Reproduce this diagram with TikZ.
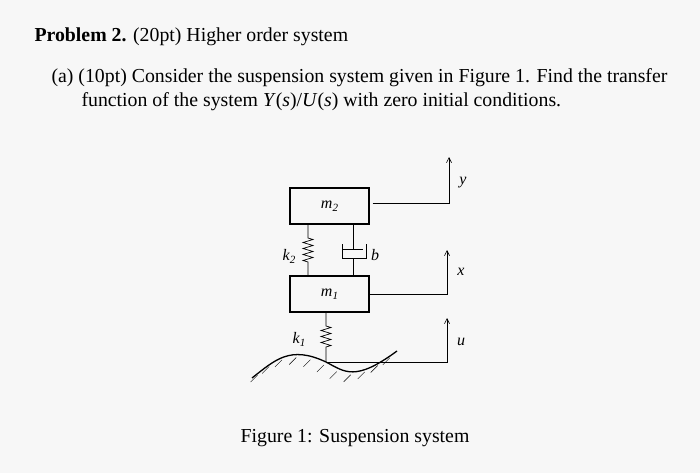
\documentclass[tikz,border=0pt]{standalone}
\usepackage{fontspec}
\setmainfont{Liberation Serif}
\usetikzlibrary{decorations.pathmorphing,decorations.markings,arrows.meta}
\newcommand{\lsub}[2]{\textit{#1}\raisebox{-3pt}{\fontsize{11}{11}\selectfont #2}}
\begin{document}
\begin{tikzpicture}[x=1pt,y=-1pt,
  mass/.style={draw,line width=1.4pt,minimum width=79pt,minimum height=36pt,inner sep=0pt},
  wire/.style={line width=0.6pt},
  sig/.style={line width=0.6pt,-{Straight Barb[length=5pt,width=5pt]}},
  spr/.style={line width=0.7pt,decorate,decoration={zigzag,segment length=6pt,amplitude=5pt,pre length=14pt,post length=14pt}},
  lbl/.style={font=\fontsize{16}{18}\selectfont\itshape}]
\fill[white!94!gray] (0,0) rectangle (700,473);
\useasboundingbox (0,0) rectangle (700,473);
\node[anchor=base west,font=\fontsize{19.8}{24}\selectfont] (t) at (31,42) {\textbf{Problem 2.} (20pt) Higher order system};
\node[anchor=base west,font=\fontsize{19.8}{24}\selectfont] (a1) at (48,83) {(a) (10pt) Consider the suspension system given in Figure 1. Find the transfer};
\node[anchor=base west,font=\fontsize{19.8}{24}\selectfont] (a2) at (78,107) {function of the system \textit{Y}(\textit{s})/\textit{U}(\textit{s}) with zero initial conditions.};
\node[anchor=base,font=\fontsize{19.8}{24}\selectfont] (cap) at (355,442) {Figure 1: Suspension system};
\node[mass] (m2) at (329.5,206) {};
\node[lbl] at (m2) {\lsub{m}{2}};
\node[mass] (m1) at (329.5,294) {};
\node[lbl] at (m1) {\lsub{m}{1}};
\coordinate (s2t) at (308,224); \coordinate (s2b) at (308,276);
\draw[spr] (s2t) -- (s2b);
\node[lbl] (k2) at (289,256) {\lsub{k}{2}};
% damper
\coordinate (dt) at (353,224); \coordinate (db) at (353,276);
\draw[wire] (dt) -- (353,249) (343,249) -- (363,249);
\draw[wire] (342,244) -- (342,258) -- (366,258) -- (366,244);
\draw[wire] (353,258) -- (db);
\node[lbl] (b) at (375,255) {b};
% k1
\coordinate (s1b) at (326,362);
\draw[spr] (326,312) -- (s1b);
\node[lbl] (k1) at (299,339) {\lsub{k}{1}};
% ground
\draw[line width=1.3pt,postaction={decorate,decoration={markings,mark=between positions 0.06 and 0.98 step 0.09 with {\pgftransformresetnontranslations\draw[line width=0.4pt] (-2pt,-3pt) -- (-9pt,-10pt);}}}] (252,378) .. controls (275,360) and (290,345) .. (326,362) .. controls (345,372) and (355,382) .. (397,351);
% signals
\draw[sig] (m2.east) ++(3,-3) coordinate (ys) -- (449,203) -- (449,157);
\node[lbl] (yl) at (463,183) {y};
\draw[sig] (m1.east) -- (447,294) -- (447,250);
\node[lbl] (xl) at (461,272) {x};
\draw[sig] (s1b) -- (447,362) -- (447,318);
\node[lbl] (ul) at (461,342) {u};
\end{tikzpicture}
\end{document}
